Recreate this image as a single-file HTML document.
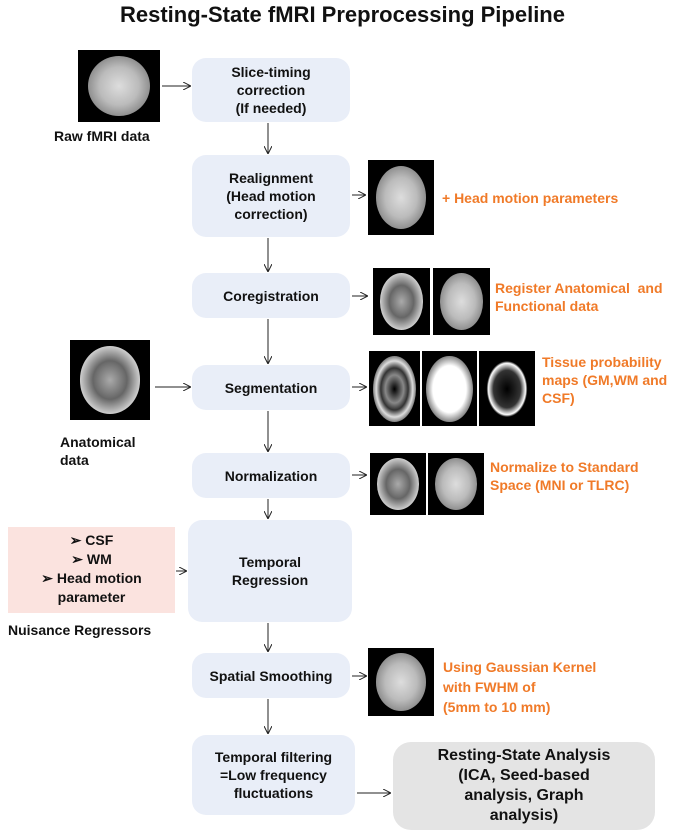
<!DOCTYPE html>
<html><head><meta charset="utf-8"><style>
body{margin:0;width:685px;height:832px;background:#fff;position:relative;font-family:"Liberation Sans",Arial,sans-serif;overflow:hidden}
.t{position:absolute;font-weight:bold;color:#111}
.box{position:absolute;background:#e9eef8;border-radius:14px;display:flex;align-items:center;justify-content:center;text-align:center;font-weight:bold;font-size:14px;line-height:18px;color:#111}
.o{position:absolute;color:#f07a28;font-weight:bold;font-size:14px;line-height:18px}
.img{position:absolute;background:#000}
.img i{position:absolute;left:12%;top:8%;width:76%;height:84%;border-radius:50%;background:radial-gradient(ellipse at center,#ddd 0%,#bbb 45%,#888 75%,#222 100%)}
.anat i{background:radial-gradient(ellipse at center,#aaa 0%,#666 40%,#ccc 70%,#999 85%,#111 100%)}
.seg{position:absolute;background:#000}
.seg i{position:absolute;left:8%;top:6%;width:84%;height:88%;border-radius:50%;background:radial-gradient(ellipse at center,#000 0%,#888 30%,#333 45%,#ddd 60%,#555 75%,#fff 85%,#000 100%)}
.seg.wm i{background:radial-gradient(ellipse at center,#fff 0%,#fff 50%,#888 70%,#000 85%)}
.seg.csf i{background:radial-gradient(ellipse at center,#000 0%,#333 40%,#fff 55%,#000 60%,#000 100%)}
</style></head><body>
<div class="t" style="left:0;width:685px;text-align:center;top:2px;font-size:22px">Resting-State fMRI Preprocessing Pipeline</div>
<svg width="685" height="832" style="position:absolute;left:0;top:0">
<defs><marker id="a" markerWidth="8" markerHeight="8" refX="7" refY="4" orient="auto"><path d="M0,0 L8,4 L0,8" fill="none" stroke="#222" stroke-width="1"/></marker></defs>
<g stroke="#222" stroke-width="1" marker-end="url(#a)">
<line x1="162" y1="86" x2="190" y2="86"/>
<line x1="268" y1="123" x2="268" y2="153"/>
<line x1="268" y1="238" x2="268" y2="271"/>
<line x1="268" y1="319" x2="268" y2="363"/>
<line x1="268" y1="411" x2="268" y2="451"/>
<line x1="268" y1="499" x2="268" y2="518"/>
<line x1="268" y1="623" x2="268" y2="651"/>
<line x1="268" y1="699" x2="268" y2="733"/>
<line x1="352" y1="195" x2="365" y2="195"/>
<line x1="352" y1="296" x2="367" y2="296"/>
<line x1="352" y1="387" x2="366" y2="387"/>
<line x1="352" y1="475" x2="366" y2="475"/>
<line x1="352" y1="676" x2="366" y2="676"/>
<line x1="155" y1="387" x2="190" y2="387"/>
<line x1="176" y1="571" x2="186" y2="571"/>
<line x1="357" y1="793" x2="390" y2="793"/>
</g></svg>
<div class="img" style="left:78px;top:50px;width:82px;height:72px"><i></i></div>
<div class="t" style="left:54px;top:128px;font-size:14px">Raw fMRI data</div>
<div class="box" style="left:192px;top:58px;width:158px;height:64px">Slice-timing<br>correction<br>(If needed)</div>
<div class="box" style="left:192px;top:155px;width:158px;height:82px">Realignment<br>(Head motion<br>correction)</div>
<div class="img" style="left:368px;top:160px;width:66px;height:75px"><i></i></div>
<div class="o" style="left:442px;top:189px">+ Head motion parameters</div>
<div class="box" style="left:192px;top:273px;width:158px;height:45px">Coregistration</div>
<div class="img anat" style="left:373px;top:268px;width:57px;height:67px"><i></i></div>
<div class="img" style="left:433px;top:268px;width:57px;height:67px"><i></i></div>
<div class="o" style="left:495px;top:279px">Register Anatomical &nbsp;and<br>Functional data</div>
<div class="img anat" style="left:70px;top:340px;width:80px;height:80px"><i></i></div>
<div class="t" style="left:60px;top:433px;font-size:14px;line-height:18px">Anatomical<br>data</div>
<div class="box" style="left:192px;top:365px;width:158px;height:45px">Segmentation</div>
<div class="seg" style="left:369px;top:351px;width:51px;height:75px"><i></i></div>
<div class="seg wm" style="left:422px;top:351px;width:55px;height:75px"><i></i></div>
<div class="seg csf" style="left:479px;top:351px;width:56px;height:75px"><i></i></div>
<div class="o" style="left:542px;top:353px">Tissue probability<br>maps (GM,WM and<br>CSF)</div>
<div class="box" style="left:192px;top:453px;width:158px;height:45px">Normalization</div>
<div class="img anat" style="left:370px;top:453px;width:56px;height:62px"><i></i></div>
<div class="img" style="left:428px;top:453px;width:56px;height:62px"><i></i></div>
<div class="o" style="left:490px;top:458px">Normalize to Standard<br>Space (MNI or TLRC)</div>
<div style="position:absolute;left:8px;top:527px;width:167px;height:86px;background:#fbe3df"></div>
<div class="t" style="left:8px;top:531px;width:167px;text-align:center;font-size:14px;line-height:19px">➢ CSF<br>➢ WM<br>➢ Head motion<br>parameter</div>
<div class="t" style="left:8px;top:622px;font-size:14px">Nuisance Regressors</div>
<div class="box" style="left:188px;top:520px;width:164px;height:102px">Temporal<br>Regression</div>
<div class="box" style="left:192px;top:653px;width:158px;height:45px">Spatial Smoothing</div>
<div class="img" style="left:368px;top:648px;width:66px;height:68px"><i></i></div>
<div class="o" style="left:443px;top:657px;line-height:20px">Using Gaussian Kernel<br>with FWHM of<br>(5mm to 10 mm)</div>
<div class="box" style="left:192px;top:735px;width:163px;height:80px">Temporal filtering<br>=Low frequency<br>fluctuations</div>
<div class="box" style="left:393px;top:742px;width:262px;height:88px;background:#e4e4e4;border-radius:18px;font-size:16px;line-height:20px">Resting-State Analysis<br>(ICA, Seed-based<br>analysis, Graph<br>analysis)</div>
</body></html>
